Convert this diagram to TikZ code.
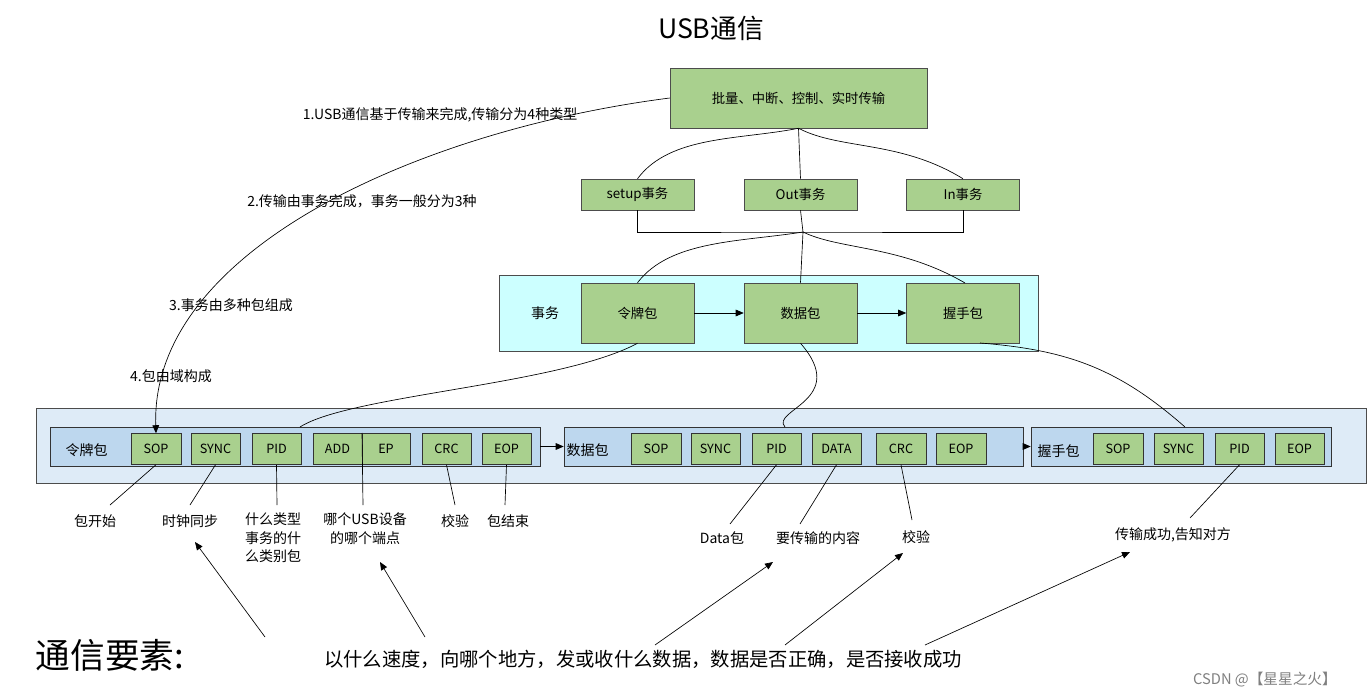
\documentclass[tikz,border=0pt]{standalone}
\usepackage{fontspec}
\setmainfont{Noto Sans CJK SC}
\usetikzlibrary{arrows.meta}
\begin{document}
\begin{tikzpicture}[x=0.75pt,y=-0.75pt,
  g/.style={draw=black!70,fill=green!35!olive!40!white,fill={rgb,255:red,169;green,208;blue,142},font=\fontsize{10}{12}\selectfont,inner sep=0},
  fld/.style={draw=black!80,fill={rgb,255:red,169;green,208;blue,142},font=\fontsize{9.5}{11}\selectfont,inner sep=0},
  lb/.style={font=\fontsize{10.5}{14}\selectfont,align=center,inner sep=1pt},
  ln/.style={draw=black,line width=0.5pt},
  ar/.style={ln,-{Triangle[length=6pt,width=5pt]}}]
\useasboundingbox (0,0) rectangle (1368,699);
\fill[white] (0,0) rectangle (1368,699);
\node (title) at (711,28) {\fontsize{20}{24}\selectfont USB通信};
% top
\node[g,minimum width=257*0.75pt,minimum height=60*0.75pt] (tr) at (798.5,98) {批量、中断、控制、实时传输};
\foreach \n/\x/\t in {setup/637.5/setup事务,out/800.5/Out事务,in/963/In事务}
  \node[g,minimum width=113*0.75pt,minimum height=31*0.75pt] (\n) at (\x,194.5) {\t};
\coordinate (bc) at (803,232);
\draw[ln] (setup.south) |- (bc) -| (in.south);
\draw[ln] (out.south) -- (bc);
\draw[ln] (tr.south) .. controls (740,140) and (670,135) .. (setup.north);
\draw[ln] (tr.south) -- (out.north);
\draw[ln] (tr.south) .. controls (840,150) and (900,140) .. (in.north);
% transaction
\node[draw=black!70,fill={rgb,255:red,204;green,255;blue,255},minimum width=539*0.75pt,minimum height=76*0.75pt,inner sep=0] (tbox) at (768.5,313) {};
\node[lb] (sw) at (545,313) {事务};
\foreach \n/\x/\t in {tk/637.5/令牌包,dt/800.5/数据包,hs/963/握手包}
  \node[g,minimum width=113*0.75pt,minimum height=60*0.75pt] (\n) at (\x,313) {\t};
\draw[ar] (tk) -- (dt);
\draw[ar] (dt) -- (hs);
\draw[ln] (bc) .. controls (740,242) and (670,240) .. (tk.north);
\draw[ln] (bc) -- (dt.north);
\draw[ln] (bc) .. controls (840,250) and (900,245) .. (965,283);
% packets
\node[draw=black!70,fill={rgb,255:red,222;green,235;blue,247},minimum width=1330*0.75pt,minimum height=75*0.75pt,inner sep=0] (pbox) at (701,445.5) {};
\tikzset{pk/.style={draw=black!80,fill={rgb,255:red,189;green,215;blue,238},minimum height=39*0.75pt,inner sep=0}}
\node[pk,minimum width=490*0.75pt] (p1) at (295,446.5) {};
\node[pk,minimum width=459*0.75pt] (p2) at (793.5,446.5) {};
\node[pk,minimum width=300*0.75pt] (p3) at (1181,446.5) {};
\node[lb,anchor=west] (p1l) at (64,450) {令牌包};
\node[lb,anchor=west] (p2l) at (565,450) {数据包};
\node[lb,anchor=west] (p3l) at (1036,451) {握手包};
\draw[ar] (p1) -- (p2);
\draw[ar] (p2) -- (p3);
\foreach \n/\a/\b/\t in {a1/131/181/SOP,a2/191/240/SYNC,a3/252/301/PID,a4/313/362/ADD,a5/362/410/EP,a6/422/471/CRC,a7/482/531/EOP,
  b1/631/681/SOP,b2/691/740/SYNC,b3/752/801/PID,b4/812/861/DATA,b5/876/926/CRC,b6/936/986/EOP,
  c1/1093/1143/SOP,c2/1154/1203/SYNC,c3/1215/1264/PID,c4/1275/1324/EOP}
  \node[fld,minimum width={(\b-\a)*0.75pt},minimum height=31*0.75pt] (\n) at ({(\a+\b)/2},449) {\t};
\draw[ln] (tk.south) .. controls (560,385) and (350,395) .. (300,427);
\draw[ln] (dt.south) .. controls (850,400) and (770,410) .. (785,427);
\draw[ln] (980,343) .. controls (1070,350) and (1120,370) .. (1185,427);
% labels
\node[lb] (s1) at (440,115) {1.USB通信基于传输来完成,传输分为4种类型};
\node[lb] (s2) at (362,201) {2.传输由事务完成，事务一般分为3种};
\node[lb] (s3) at (231,305) {3.事务由多种包组成};
\node[lb] (s4) at (171,376) {4.包由域构成};
\draw[ar] (tr.west) .. controls (420,130) and (150,250) .. (a1.north);
\node[lb] (l1) at (95,521) {包开始};
\node[lb] (l2) at (190,521) {时钟同步};
\node[lb,anchor=north] (l3) at (273,511) {什么类型\\事务的什\\么类别包};
\node[lb,anchor=north] (l4) at (365,511) {哪个USB设备\\的哪个端点};
\node[lb] (l5) at (455,521) {校验};
\node[lb] (l6) at (508,521) {包结束};
\draw[ln] (a1.south) -- (110,505);
\draw[ln] (a2.south) -- (190,505);
\draw[ln] (a3.south) -- (277,505);
\draw[ln] (362,433) -- (363,505);
\draw[ln] (a6.south) -- (455,505);
\draw[ln] (a7.south) -- (505,505);
\node[lb] (m1) at (722,538) {Data包};
\node[lb] (m2) at (818,538) {要传输的内容};
\node[lb] (m3) at (916,537) {校验};
\node[lb] (m4) at (1173,535) {传输成功,告知对方};
\draw[ln] (b3.south) -- (730,524);
\draw[ln] (b4.south) -- (800,524);
\draw[ln] (b5.south) -- (912,520);
\draw[ln] (c3.south) -- (1190,518);
\node (big) at (110,655) {\fontsize{26}{30}\selectfont 通信要素:};
\node (bot) at (643,659) {\fontsize{14.5}{18}\selectfont 以什么速度，向哪个地方，发或收什么数据，数据是否正确，是否接收成功};
\draw[ar] (265,637) -- (195,542);
\draw[ar] (425,637) -- (380,562);
\draw[ar] (655,645) -- (773,562);
\draw[ar] (785,645) -- (903,553);
\draw[ar] (925,645) -- (1130,552);
\node[text=black!50] (wm) at (1265,680) {\fontsize{11}{13}\selectfont CSDN @【星星之火】};
\end{tikzpicture}
\end{document}
